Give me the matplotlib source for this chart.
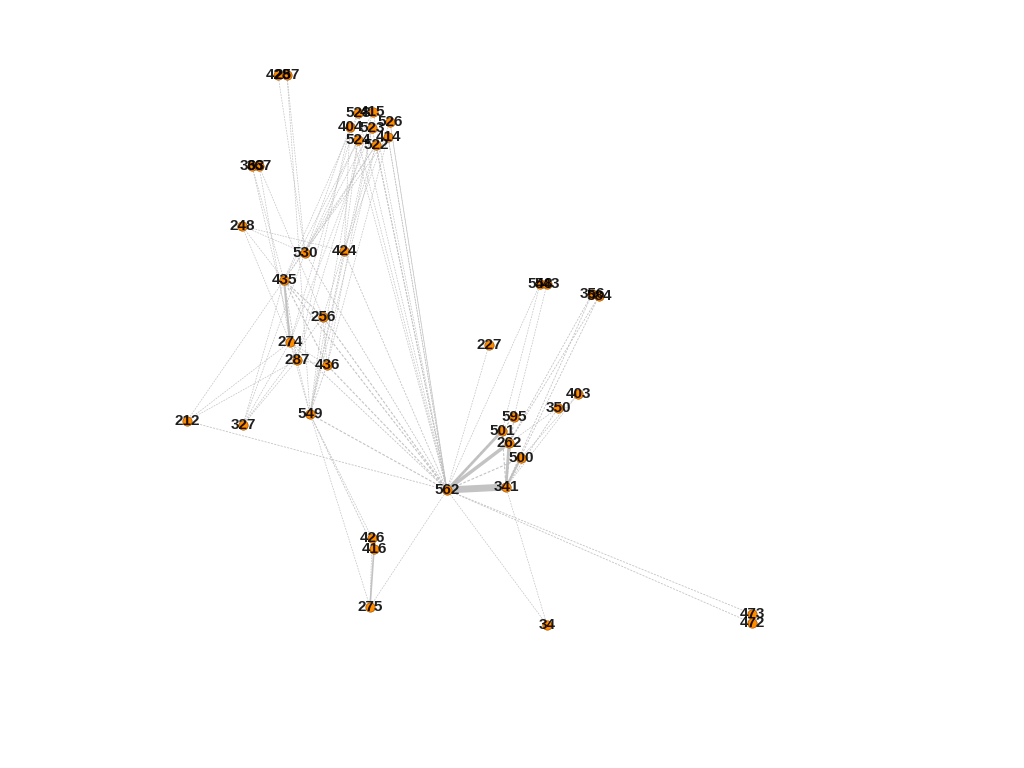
import matplotlib
matplotlib.use("Agg")
import matplotlib.pyplot as plt

# ---------------------------------------------------------------
# Node layout (x, y read off the picture, y measured from top)
# ---------------------------------------------------------------
node_ids = ['428', '257', '528', '415', '404', '523', '526', '524', '522', '414',
            '363', '367', '248', '530', '424', '435', '548', '543', '356', '584',
            '256', '227', '274', '287', '436', '403', '350', '212', '327', '549',
            '595', '501', '262', '500', '562', '341', '426', '416', '275', '34',
            '473', '472']
node_x = [278, 287, 358, 373, 350, 372, 390, 358, 376, 388,
          252, 259, 242, 305, 344, 284, 540, 547, 592, 599,
          323, 489, 290, 297, 327, 578, 558, 187, 243, 310,
          514, 502, 509, 521, 447, 506, 372, 374, 370, 547,
          752, 752]
node_y = [75, 75, 113, 112, 127, 128, 122, 140, 145, 137,
          166, 166, 226, 253, 251, 280, 284, 284, 294, 296,
          317, 345, 342, 360, 365, 394, 408, 421, 425, 414,
          417, 431, 443, 458, 490, 487, 538, 549, 607, 625,
          614, 623]

# ---------------------------------------------------------------
# Edges (source, target, weight)
# ---------------------------------------------------------------
edge_src = ['562', '562', '562', '562', '562', '562', '562', '562', '562', '562',
            '562', '562', '562', '562', '562', '562', '562', '562', '562', '562',
            '562', '562', '562', '562', '562', '562', '562',
            '341', '341', '341', '341', '341', '341', '341', '341', '341',
            '262', '262', '262', '501', '595', '500',
            '549', '549', '549', '549', '549', '549', '549', '549', '549', '549',
            '416', '426',
            '327', '327', '327', '327', '327',
            '212', '212', '212',
            '248', '248', '248', '248',
            '363', '367', '363', '367',
            '428', '257', '257',
            '435', '435', '435', '435',
            '404', '523', '524', '522', '528', '415', '414', '526',
            '404', '524', '522', '523', '528', '415', '414',
            '522', '524', '523', '404', '526', '414',
            '287', '274', '256', '436']
edge_dst = ['212', '549', '436', '435', '256', '274', '530', '404', '523', '524',
            '522', '528', '415', '414', '526', '424', '227', '548', '501', '262',
            '595', '341', '500', '473', '472', '34', '275',
            '262', '500', '501', '595', '34', '350', '403', '356', '584',
            '356', '584', '350', '548', '543', '403',
            '426', '416', '275', '436', '274', '287', '256', '424', '522', '523',
            '275', '275',
            '435', '274', '287', '256', '530',
            '435', '274', '287',
            '435', '530', '424', '274',
            '435', '274', '287', '256',
            '530', '530', '549',
            '274', '256', '436', '287',
            '530', '530', '530', '530', '435', '435', '435', '424',
            '424', '424', '256', '436', '274', '287', '436',
            '435', '549', '274', '287', '562', '562',
            '436', '287', '436', '274']
edge_w = [0.6, 0.8, 0.8, 0.8, 0.8, 0.6, 0.6, 0.5, 0.6, 0.5,
          0.6, 0.5, 0.5, 0.5, 0.5, 0.6, 0.5, 0.5, 2.0, 2.5,
          0.8, 5.0, 0.8, 0.6, 0.6, 0.5, 0.5,
          2.0, 1.5, 0.8, 0.8, 0.5, 0.6, 0.5, 0.6, 0.6,
          0.6, 0.6, 0.5, 0.5, 0.5, 0.5,
          0.5, 0.6, 0.5, 0.6, 0.5, 0.5, 0.5, 0.6, 0.5, 0.5,
          1.2, 0.5,
          0.5, 0.5, 0.5, 0.5, 0.5,
          0.5, 0.5, 0.5,
          0.5, 0.5, 0.5, 0.5,
          0.5, 0.5, 0.5, 0.5,
          0.5, 0.5, 0.5,
          1.5, 0.8, 0.8, 0.6,
          0.5, 0.5, 0.5, 0.6, 0.5, 0.5, 0.5, 0.5,
          0.5, 0.5, 0.5, 0.5, 0.5, 0.5, 0.5,
          0.5, 0.5, 0.5, 0.5, 0.5, 0.5,
          0.6, 0.6, 0.5, 0.5]

# ---------------------------------------------------------------
# Plot
# ---------------------------------------------------------------
pos = {n: (x, 768 - y) for n, x, y in zip(node_ids, node_x, node_y)}

fig = plt.figure(figsize=(10.24, 7.68), dpi=100)
ax = fig.add_axes([0, 0, 1, 1])
ax.set_xlim(0, 1024)
ax.set_ylim(0, 768)
ax.axis('off')

for s, t, w in zip(edge_src, edge_dst, edge_w):
    (x0, y0), (x1, y1) = pos[s], pos[t]
    ax.plot([x0, x1], [y0, y1], color='#bdbdbd', lw=w,
            ls=(0, (2.5, 1.5)) if w < 1.0 else '-', alpha=0.9, zorder=1)

xs = [pos[n][0] for n in node_ids]
ys = [pos[n][1] for n in node_ids]
ax.scatter(xs, ys, s=45, color='#ff8c00', edgecolors='#a05000',
           linewidths=0.5, zorder=2)

for n in node_ids:
    ax.text(pos[n][0], pos[n][1], n, ha='center', va='center',
            fontsize=11, fontweight='bold', family='Liberation Sans',
            color='#000000', alpha=0.88, zorder=3)

fig.savefig('out.png', dpi=100)
